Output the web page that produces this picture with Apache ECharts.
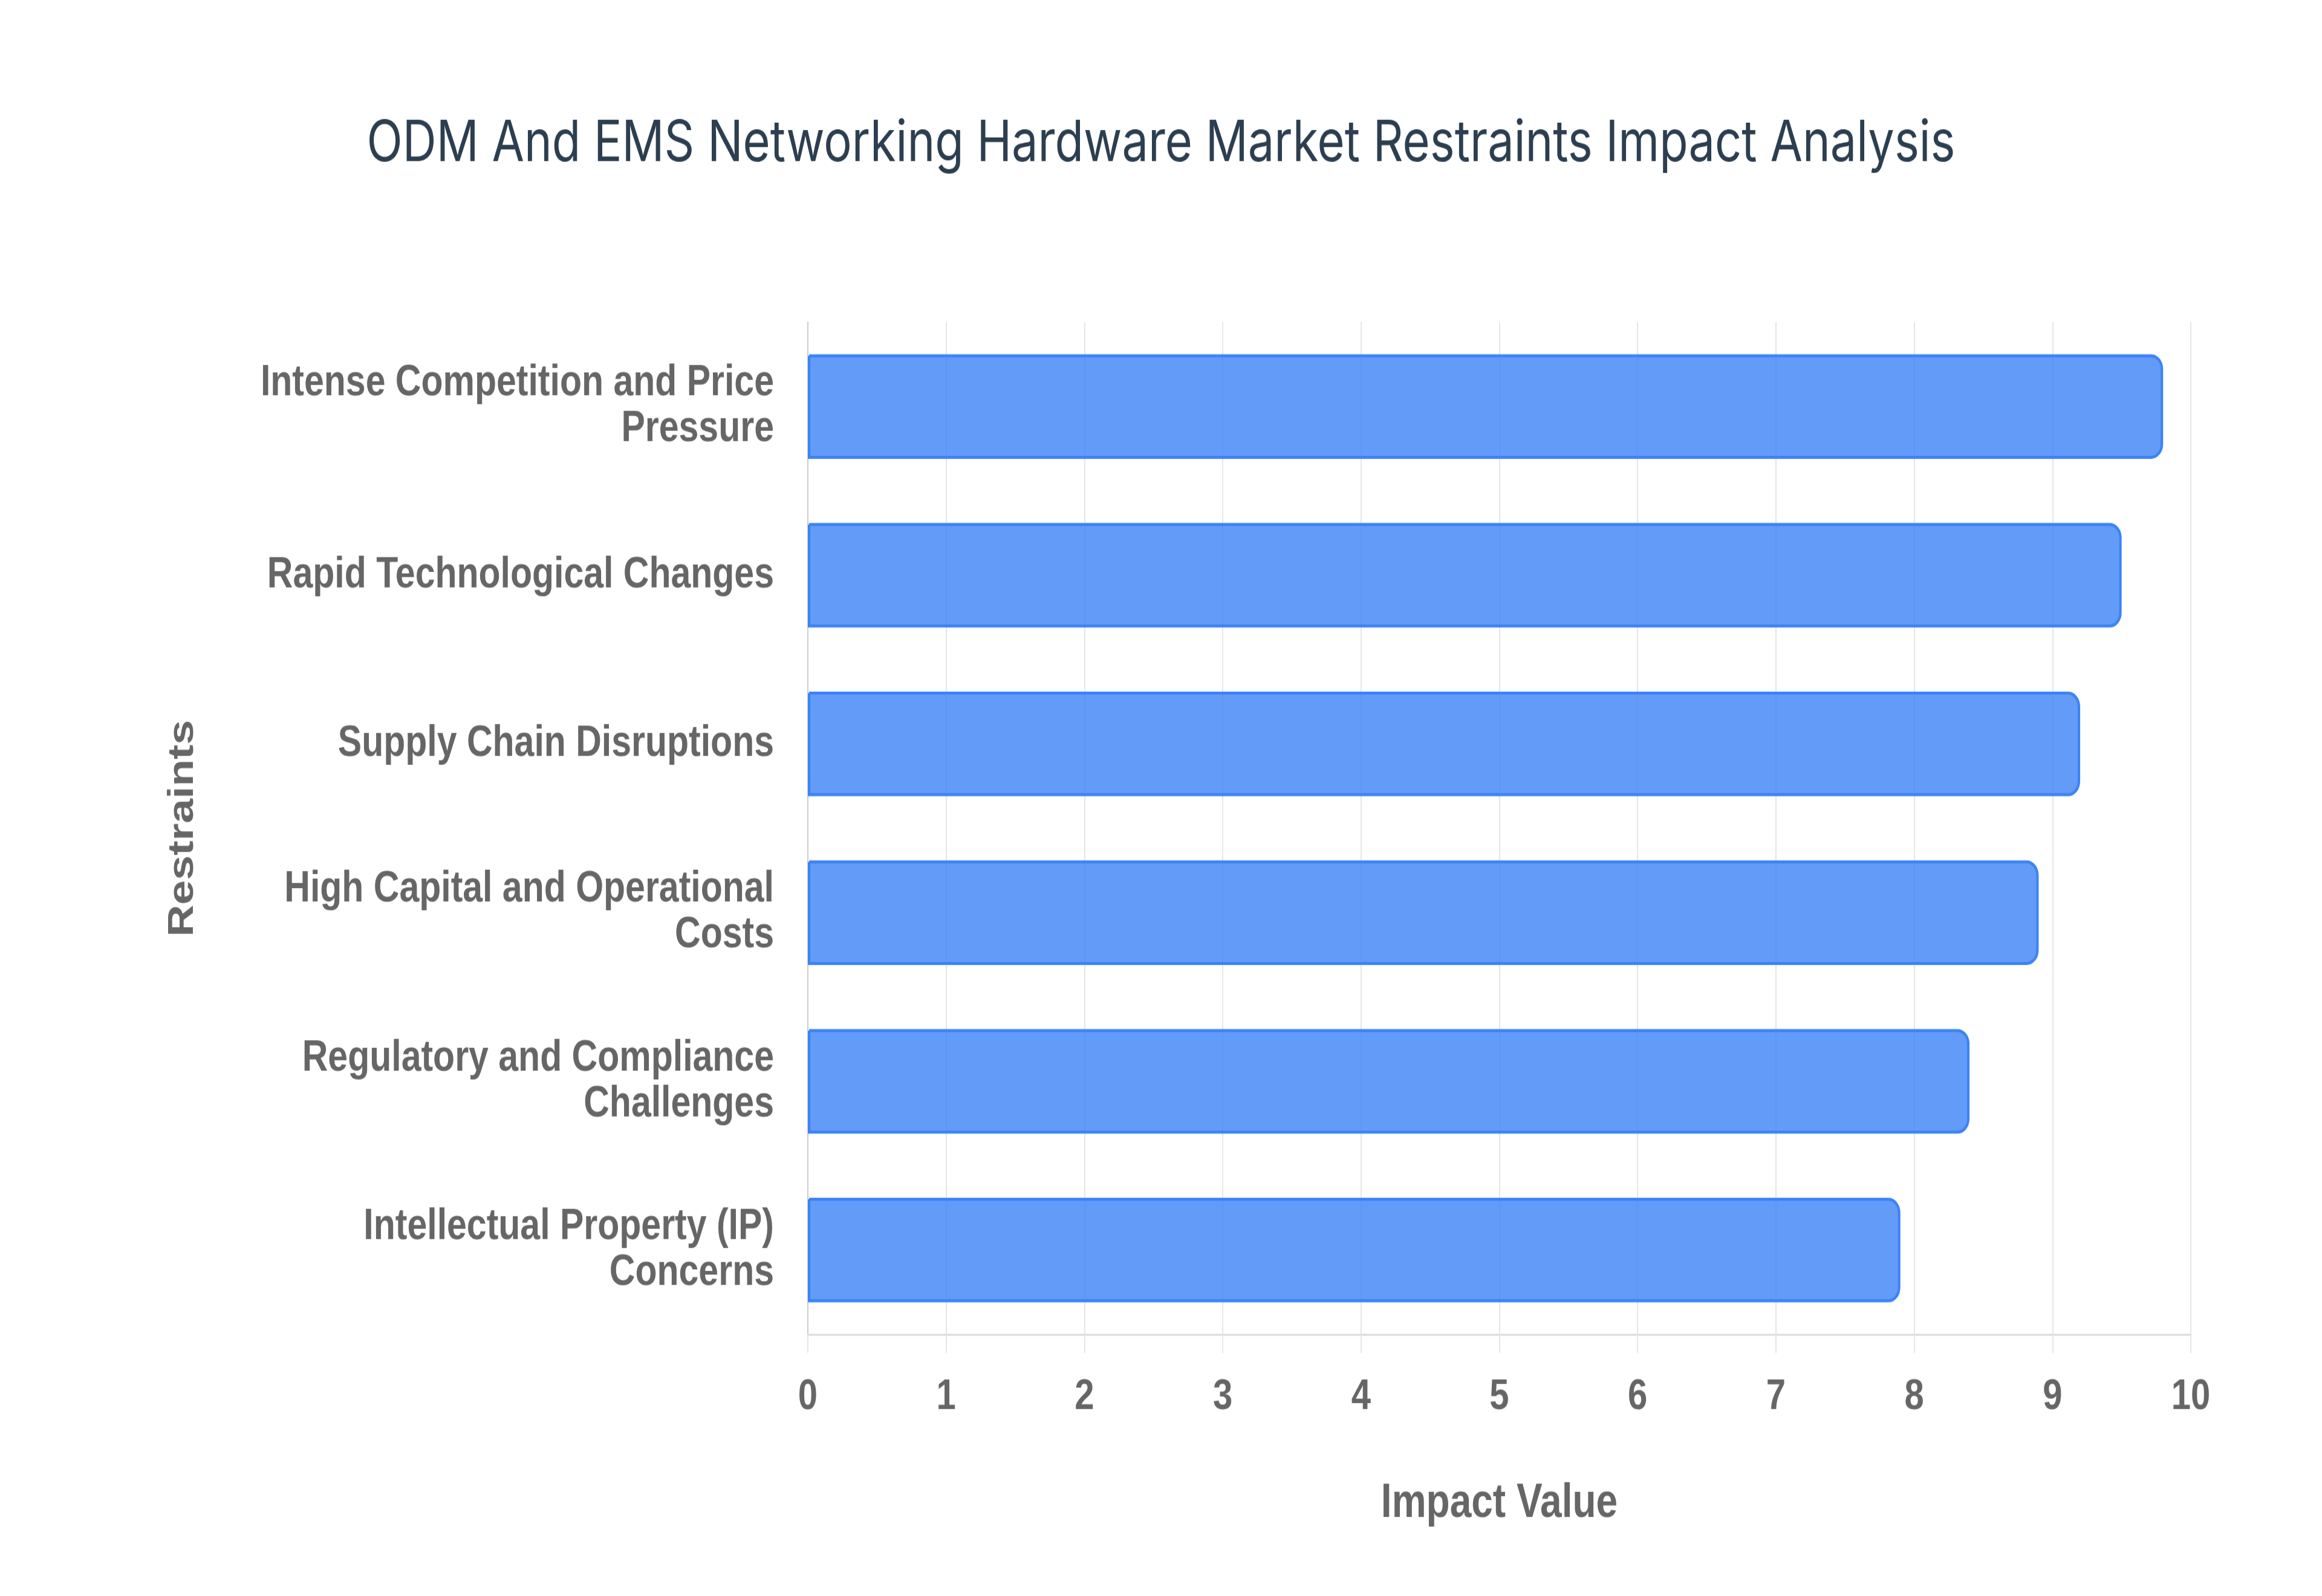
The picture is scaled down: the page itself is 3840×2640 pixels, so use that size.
<!DOCTYPE html>
<html>
<head>
<meta charset="utf-8">
<script src="https://cdn.jsdelivr.net/npm/echarts@6/dist/echarts.min.js"></script>
<style>
  html, body { margin: 0; padding: 0; background: #ffffff; }
  body { width: 3840px; height: 2640px; overflow: visible; }
  #chart { width: 3840px; height: 2160px; transform: scaleY(1.2222); transform-origin: 0 0; }
</style>
</head>
<body>
<div id="chart"></div>
<script>
const chartTitle = 'ODM And EMS Networking Hardware Market Restraints Impact Analysis';
const categories = [
  'Intense Competition and Price Pressure',
  'Rapid Technological Changes',
  'Supply Chain Disruptions',
  'High Capital and Operational Costs',
  'Regulatory and Compliance Challenges',
  'Intellectual Property (IP) Concerns'
];
const impactValues = [9.8, 9.5, 9.2, 8.9, 8.4, 7.9];
const xAxisName = 'Impact Value';
const yAxisName = 'Restraints';

function wrapLabel(text, maxChars) {
  const words = text.split(' ');
  const lines = [];
  let line = '';
  words.forEach(function (w) {
    const candidate = line ? line + ' ' + w : w;
    if (candidate.length > maxChars && line) {
      lines.push(line);
      line = w;
    } else {
      line = candidate;
    }
  });
  if (line) lines.push(line);
  return lines.join('\n');
}

const chart = echarts.init(document.getElementById('chart'), null, { renderer: 'canvas' });
chart.setOption({
  backgroundColor: '#ffffff',
  animation: false,
  title: {
    text: chartTitle,
    left: 'center',
    top: 151,
    textStyle: { fontFamily: 'Inter', fontWeight: 400, fontSize: 77.5, color: '#2c3e50' }
  },
  grid: { left: 1336, right: 217, top: 436, bottom: 354, containLabel: false },
  xAxis: {
    type: 'value',
    min: 0,
    max: 10,
    interval: 1,
    name: xAxisName,
    nameLocation: 'middle',
    nameGap: 197,
    nameTextStyle: { fontFamily: 'Liberation Sans', fontWeight: 'bold', fontSize: 64, color: '#666666' },
    axisLine: { show: true, lineStyle: { color: '#e0e0e0', width: 3 } },
    axisTick: { show: true, length: 25, lineStyle: { color: '#e6e6e6', width: 2 } },
    axisLabel: { margin: 56, fontFamily: 'Liberation Sans', fontWeight: 'bold', fontSize: 58, color: '#666666' },
    splitLine: { show: true, lineStyle: { color: '#e6e6e6', width: 2 } }
  },
  yAxis: {
    type: 'category',
    inverse: true,
    data: categories,
    name: yAxisName,
    nameLocation: 'middle',
    nameGap: 1004,
    nameRotate: 90,
    nameTextStyle: { fontFamily: 'Liberation Sans', fontWeight: 'bold', fontSize: 60, color: '#666666' },
    axisLine: { show: true, lineStyle: { color: '#cccccc', width: 2 } },
    axisTick: { show: false },
    axisLabel: {
      margin: 56,
      lineHeight: 62,
      fontFamily: 'Liberation Sans',
      fontWeight: 'bold',
      fontSize: 59,
      color: '#666666',
      formatter: function (v) { return wrapLabel(v, 30); }
    },
    splitLine: { show: false }
  },
  series: [{
    type: 'bar',
    data: impactValues,
    barCategoryGap: '38%',
    itemStyle: {
      color: 'rgba(59,130,246,0.8)',
      borderColor: '#3b82f6',
      borderWidth: 4,
      borderRadius: [0, 18, 18, 0]
    }
  }]
});
</script>
</body>
</html>
